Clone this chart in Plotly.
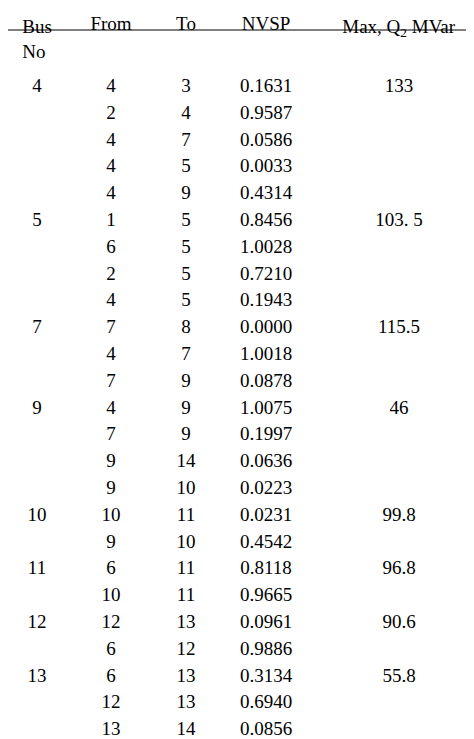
import plotly.graph_objects as go

headers = ["Bus No", "From", "To", "NVSP", "Max, Q<sub>2</sub> MVar"]
bus_no = ["4","","","","","5","","","","7","","","9","","","","10","","11","","12","","13","","","14",""]
from_bus = [4,2,4,4,4,1,6,2,4,7,4,7,4,7,9,9,10,9,6,10,12,6,6,12,13,13,9]
to_bus = [3,4,7,5,9,5,5,5,5,8,7,9,9,9,14,10,11,10,11,11,13,12,13,13,14,14,14]
nvsp = ["0.1631","0.9587","0.0586","0.0033","0.4314","0.8456","1.0028","0.7210","0.1943",
        "0.0000","1.0018","0.0878","1.0075","0.1997","0.0636","0.0223","0.0231","0.4542",
        "0.8118","0.9665","0.0961","0.9886","0.3134","0.6940","0.0856","0.9080","0.7133"]
max_q = ["133","","","","","103. 5","","","","115.5","","","46","","","","99.8","","96.8","","90.6","","55.8","","","55",""]

H = 739
fig = go.Figure(go.Table(
    columnwidth=[58, 90, 60, 100, 166],
    header=dict(values=headers, height=18, fill_color="white", line_color="white",
                font=dict(family="Liberation Serif", size=19, color="black"), align="center"),
    cells=dict(values=[bus_no, from_bus, to_bus, nvsp, max_q], height=26.8,
               fill_color="white", line_color="white",
               font=dict(family="Liberation Serif", size=19, color="black"), align="center"),
    domain=dict(x=[0, 1], y=[0, 1]),
))
fig.add_shape(type="line", xref="paper", yref="paper", x0=0, x1=1,
              y0=1 - 22/H, y1=1 - 22/H, line=dict(color="black", width=1))
fig.update_layout(width=474, height=H, margin=dict(l=0, r=0, t=0, b=0),
                  paper_bgcolor="white", plot_bgcolor="white")
fig.write_html("out.html")
